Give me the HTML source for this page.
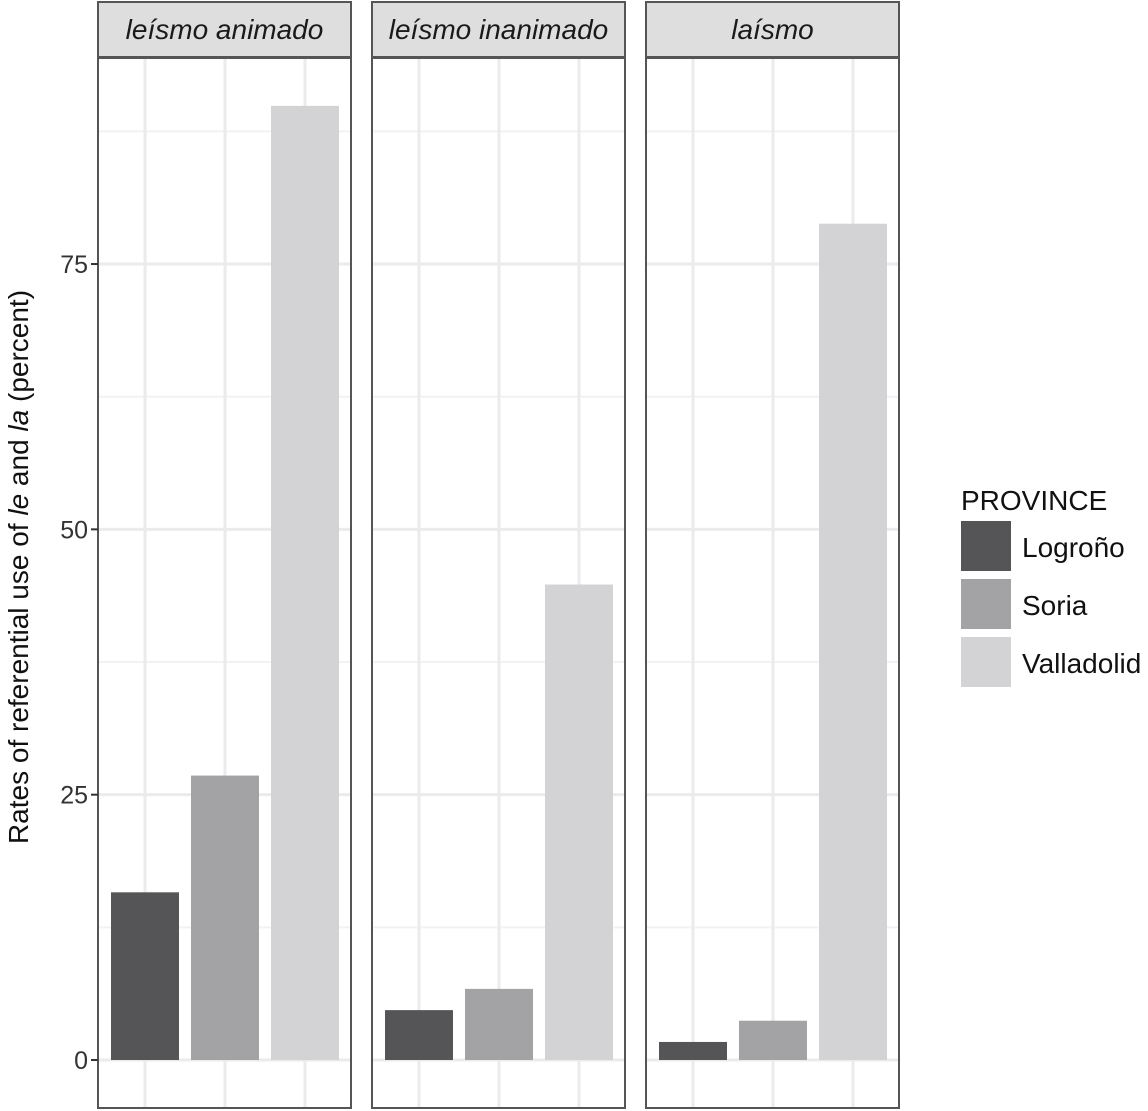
<!DOCTYPE html>
<html><head><meta charset="utf-8"><style>
body{margin:0;background:#fff;}
svg{display:block;font-family:"Liberation Sans",sans-serif;}
</style></head><body>
<svg id="chart" width="1148" height="1111"></svg>
<script>
const facets = ["leísmo animado","leísmo inanimado","laísmo"];
const provinces = ["Logroño","Soria","Valladolid"];
const logronoVals = [15.8, 4.7, 1.7];
const soriaVals = [26.8, 6.7, 3.7];
const valladolidVals = [89.9, 44.8, 78.8];
const yTicks = [0,25,50,75];
const colors = ["#555557","#a3a3a6","#d3d3d5"];
const series = [logronoVals, soriaVals, valladolidVals];

const NS="http://www.w3.org/2000/svg";
const svg=document.getElementById('chart');
function el(tag,attrs,parent){const e=document.createElementNS(NS,tag);for(const k in attrs)e.setAttribute(k,attrs[k]);(parent||svg).appendChild(e);return e;}
const panelX=[98,372,646], panelW=253, plotTop=58, plotBottom=1108;
const y=v=>1060-v*10.613;
const xc=(p,i)=>panelX[p]+47+i*80;

facets.forEach((f,p)=>{
  const g=el('g',{});
  
  
  for(let v=12.5;v<100;v+=25){if(y(v)>plotTop) el('line',{x1:panelX[p],x2:panelX[p]+panelW,y1:y(v),y2:y(v),stroke:'#f2f2f2','stroke-width':2},g);}
  yTicks.forEach(v=>el('line',{x1:panelX[p],x2:panelX[p]+panelW,y1:y(v),y2:y(v),stroke:'#ebebeb','stroke-width':3},g));
  provinces.forEach((pr,i)=>el('line',{x1:xc(p,i),x2:xc(p,i),y1:plotTop,y2:plotBottom,stroke:'#ebebeb','stroke-width':3},g));
  series.forEach((s,i)=>{
    const r=el('rect',{x:xc(p,i)-34,y:y(s[p]),width:68,height:y(0)-y(s[p]),fill:colors[i]},g);
    
    
  });
  el('rect',{x:panelX[p],y:plotTop,width:panelW,height:plotBottom-plotTop,fill:'none',stroke:'#555','stroke-width':2},g);
  const st=el('rect',{x:panelX[p],y:2,width:panelW,height:55,fill:'#dedede',stroke:'#555','stroke-width':2},g);
  
  
  const t=el('text',{x:panelX[p]+panelW/2,y:39,'text-anchor':'middle','font-size':28,'font-style':'italic',fill:'#1a1a1a'},g);
  t.textContent=f;
  
  
});
yTicks.forEach(v=>{
  el('line',{x1:91,x2:98,y1:y(v),y2:y(v),stroke:'#333','stroke-width':2});
  const t=el('text',{x:88,y:y(v)+9,'text-anchor':'end','font-size':25,fill:'#333'});
  t.textContent=v;
  
  
});
const yt=el('text',{transform:'translate(28,567) rotate(-90)','text-anchor':'middle','font-size':28,fill:'#111'});
yt.innerHTML='Rates of referential use of <tspan font-style="italic">le</tspan> and <tspan font-style="italic">la</tspan> (percent)';


const lt=el('text',{x:961,y:510,'font-size':28,fill:'#111'});
lt.textContent='PROVINCE';


provinces.forEach((pr,i)=>{
  const g=el('g',{});
  
  
  el('rect',{x:961,y:521+i*58,width:50,height:50,fill:colors[i]},g);
  const t=el('text',{x:1022,y:557+i*58,'font-size':28,fill:'#111'},g);
  t.textContent=pr;
});
</script>
</body></html>
